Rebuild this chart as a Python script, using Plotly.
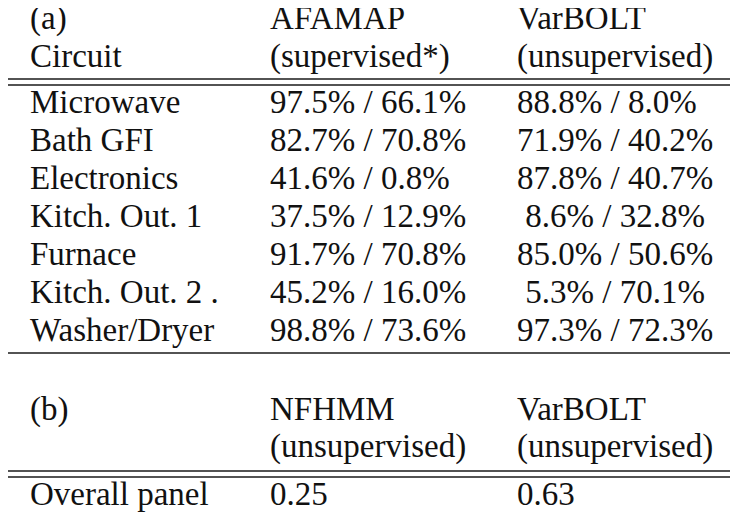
import plotly.graph_objects as go

# ── Table data ──────────────────────────────────────────────────
circuits = ["Microwave", "Bath GFI", "Electronics", "Kitch. Out. 1",
            "Furnace", "Kitch. Out. 2 .", "Washer/Dryer"]
afamap = ["97.5% / 66.1%", "82.7% / 70.8%", "41.6% / 0.8%", "37.5% / 12.9%",
          "91.7% / 70.8%", "45.2% / 16.0%", "98.8% / 73.6%"]
varbolt = ["88.8% / 8.0%", "71.9% / 40.2%", "87.8% / 40.7%", "\u00a08.6% / 32.8%",
           "85.0% / 50.6%", "\u00a05.3% / 70.1%", "97.3% / 72.3%"]
header_a = [["(a)", "AFAMAP", "VarBOLT"],
            ["Circuit", "(supervised*)", "(unsupervised)"]]
header_b = [["(b)", "NFHMM", "VarBOLT"],
            ["", "(unsupervised)", "(unsupervised)"]]
overall_label = "Overall panel"
overall_scores = ["0.25", "0.63"]

# ── Layout constants (pixels) ───────────────────────────────────
W, H = 738, 513
FS = 33
COL_X = [22, 262, 509]
SHIFT = 8           # plotly puts the baseline ~0.25*size below the point
FONT = dict(family="Liberation Serif", size=FS, color="#111111")

hdr_a_base = [21, 59]
rows_base = [105 + 38 * i for i in range(len(circuits))]
hdr_b_base = [412, 449]
overall_base = 497

fig = go.Figure()


def add_row(texts, base):
    fig.add_trace(go.Scatter(
        x=COL_X[:len(texts)], y=[base - SHIFT] * len(texts),
        mode="text", text=texts, textposition="middle right",
        textfont=FONT, hoverinfo="skip", showlegend=False
    ))


for row, b in zip(header_a, hdr_a_base):
    add_row(row, b)
for c, a, v, b in zip(circuits, afamap, varbolt, rows_base):
    add_row([c, a, v], b)
for row, b in zip(header_b, hdr_b_base):
    add_row(row, b)
add_row([overall_label] + overall_scores, overall_base)

# ── Rules ───────────────────────────────────────────────────────
for y in [71, 77, 345, 463, 469, 508]:
    fig.add_shape(type="line", xref="x", yref="y", x0=0, x1=W, y0=y, y1=y,
                  line=dict(color="#1a1a1a", width=1.6))

fig.update_layout(
    width=W, height=H,
    margin=dict(l=0, r=0, t=0, b=0),
    font=dict(family="Liberation Serif"),
    paper_bgcolor="white", plot_bgcolor="white",
    xaxis=dict(range=[0, W], visible=False, fixedrange=True),
    yaxis=dict(range=[H, 0], visible=False, fixedrange=True),
)

fig.write_html("out.html")
